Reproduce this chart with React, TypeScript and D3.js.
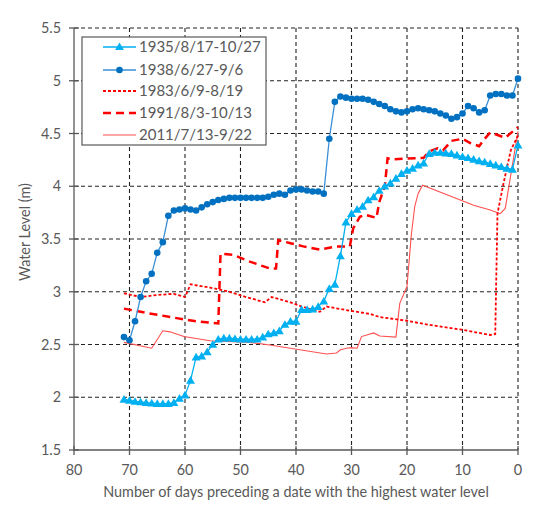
// @ts-nocheck
import * as d3 from 'd3'

// days before the peak, one reading per day for the two old floods
const dailyDays = d3.range(71, -1, -1)

const level1935 = [
  1.98, 1.97, 1.96, 1.955, 1.95, 1.945, 1.94, 1.94, 1.94, 1.95,
  1.99, 2.02, 2.16, 2.38, 2.39, 2.43, 2.5, 2.55, 2.56, 2.56,
  2.555, 2.55, 2.55, 2.55, 2.55, 2.57, 2.6, 2.61, 2.63, 2.69,
  2.72, 2.72, 2.83, 2.83, 2.835, 2.86, 2.91, 3.03, 3.07, 3.34,
  3.66, 3.74, 3.78, 3.81, 3.87, 3.9, 3.96, 4.0, 4.03, 4.075,
  4.12, 4.15, 4.17, 4.2, 4.22, 4.31, 4.32, 4.32, 4.315, 4.31,
  4.295, 4.28, 4.27, 4.255, 4.24, 4.23, 4.215, 4.2, 4.185, 4.17,
  4.16, 4.39,
]

const level1938 = [
  2.57, 2.54, 2.72, 2.95, 3.1, 3.17, 3.37, 3.47, 3.72, 3.77,
  3.78, 3.79, 3.78, 3.77, 3.8, 3.83, 3.85, 3.87, 3.88, 3.89,
  3.89, 3.89, 3.89, 3.89, 3.89, 3.89, 3.9, 3.92, 3.93, 3.92,
  3.96, 3.97, 3.97, 3.96, 3.95, 3.95, 3.93, 4.45, 4.8, 4.85,
  4.84, 4.83, 4.83, 4.83, 4.82, 4.8, 4.78, 4.76, 4.73, 4.71,
  4.7, 4.71, 4.73, 4.74, 4.73, 4.72, 4.71, 4.69, 4.67, 4.64,
  4.655, 4.69, 4.76, 4.74, 4.7, 4.72, 4.86, 4.875, 4.875, 4.86,
  4.86, 5.02,
]

// the recent floods are drawn as plain lines (finer records)
const days1983 = [71, 68, 65, 62, 60, 59, 55.5, 52, 49, 45.6, 44.4, 41, 39, 35.7, 34.5, 30.3, 26.7, 24.9, 20, 15.9, 10.1, 5, 4.1, 3.7, 2.6, 1.3, 0]
const level1983 = [2.985, 2.95, 2.97, 2.98, 2.95, 3.07, 3.04, 3.0, 2.95, 2.9, 2.95, 2.9, 2.86, 2.81, 2.86, 2.82, 2.79, 2.76, 2.725, 2.685, 2.64, 2.59, 2.6, 3.74, 4.03, 4.34, 4.48]

const days1991 = [71, 67, 61.5, 58, 54, 53.6, 51.3, 48.3, 44.7, 43.6, 43.2, 41, 38.7, 35.7, 32.7, 30.3, 29.7, 28.5, 27.5, 25.5, 25, 24, 23.5, 22.5, 17, 16, 14.5, 13.5, 12, 10, 8.6, 7, 6, 5, 2.3, 0]
const level1991 = [2.84, 2.8, 2.75, 2.72, 2.7, 3.36, 3.35, 3.285, 3.22, 3.22, 3.49, 3.46, 3.43, 3.4, 3.43, 3.43, 3.6, 3.71, 3.73, 3.7, 3.85, 4.0, 4.265, 4.255, 4.27, 4.33, 4.36, 4.34, 4.43, 4.45, 4.41, 4.38, 4.45, 4.51, 4.46, 4.56]

const days2011 = [71, 66, 64, 62.7, 60.2, 55.5, 48.3, 44.7, 39.9, 34.5, 32.7, 32, 30.9, 30, 29, 28.2, 26, 24.9, 22, 21.3, 20, 19.2, 18.6, 18, 17.2, 12.8, 8, 5, 3.2, 2.3, 0]
const level2011 = [2.52, 2.465, 2.63, 2.62, 2.575, 2.535, 2.52, 2.495, 2.455, 2.41, 2.42, 2.45, 2.465, 2.47, 2.465, 2.575, 2.61, 2.58, 2.57, 2.89, 3.05, 3.55, 3.81, 3.93, 4.01, 3.92, 3.82, 3.775, 3.74, 3.79, 4.52]

const legendLabels = ['1935/8/17-10/27', '1938/6/27-9/6', '1983/6/9-8/19', '1991/8/3-10/13', '2011/7/13-9/22']

const xTitle = 'Number of days preceding a date with the highest water level'
const yTitle = 'Water Level (m)'

const font = 'Lato, "Open Sans", sans-serif'
const textColor = '#595959'
const axisColor = '#595959'

export default function App() {
  const width = 550
  const height = 518
  const plot = { left: 74, right: 518, top: 28, bottom: 450 }

  const x = d3.scaleLinear().domain([80, 0]).range([plot.left, plot.right])
  const y = d3.scaleLinear().domain([1.5, 5.5]).range([plot.bottom, plot.top])

  const line = d3
    .line()
    .x((d) => x(d[0]))
    .y((d) => y(d[1]))

  const zip = (ds, vs) => ds.map((d, i) => [d, vs[i]])

  const s1935 = zip(dailyDays, level1935)
  const s1938 = zip(dailyDays, level1938)
  const s1983 = zip(days1983, level1983)
  const s1991 = zip(days1991, level1991)
  const s2011 = zip(days2011, level2011)

  const xTicks = d3.range(80, -1, -10)
  const yTicks = y.ticks(8)

  const tri = d3.symbol(d3.symbolTriangle, 34)()

  const legendRows = [47, 70, 91, 113, 135]

  return (
    <svg
      width={width}
      height={height}
      style={{ position: 'absolute', left: 0, top: 0, background: '#fff' }}
      fontFamily={font}
    >
      {/* dashed grid */}
      <g stroke="#222" strokeWidth={1.1} strokeDasharray="4,3">
        {xTicks
          .filter((t) => t !== 80)
          .map((t) => (
            <line key={'gx' + t} x1={x(t)} x2={x(t)} y1={plot.top} y2={plot.bottom} />
          ))}
        {yTicks
          .filter((t) => t !== 1.5)
          .map((t) => (
            <line key={'gy' + t} x1={plot.left} x2={plot.right} y1={y(t)} y2={y(t)} />
          ))}
      </g>

      {/* axes */}
      <g stroke={axisColor} strokeWidth={1.3}>
        <line x1={plot.left} x2={plot.left} y1={plot.top} y2={plot.bottom} />
        <line x1={plot.left} x2={plot.right} y1={plot.bottom} y2={plot.bottom} />
        {xTicks.map((t) => (
          <line key={'tx' + t} x1={x(t)} x2={x(t)} y1={plot.bottom - 4} y2={plot.bottom + 5} />
        ))}
        {yTicks.map((t) => (
          <line key={'ty' + t} x1={plot.left - 5} x2={plot.left + 5} y1={y(t)} y2={y(t)} />
        ))}
      </g>

      <g fill={textColor} fontSize={14.4}>
        {xTicks.map((t) => (
          <text key={'lx' + t} x={x(t)} y={plot.bottom + 25} textAnchor="middle">
            {t}
          </text>
        ))}
        {yTicks.map((t) => (
          <text key={'ly' + t} x={plot.left - 13} y={y(t) + 5} textAnchor="end">
            {t}
          </text>
        ))}
        <text x={296} y={497} textAnchor="middle">
          {xTitle}
        </text>
        <text transform="translate(30,232) rotate(-90)" textAnchor="middle">
          {yTitle}
        </text>
      </g>

      {/* series */}
      <path d={line(s2011)} fill="none" stroke="#ff5050" strokeWidth={1.1} />
      <path d={line(s1983)} fill="none" stroke="#ff0000" strokeWidth={1.8} strokeDasharray="3,2" />
      <path d={line(s1991)} fill="none" stroke="#ff0000" strokeWidth={2.5} strokeDasharray="8,5" />

      <path d={line(s1938)} fill="none" stroke="#3b8fd6" strokeWidth={1.3} />
      {s1938.map((d, i) => (
        <circle key={'c' + i} cx={x(d[0])} cy={y(d[1])} r={3.3} fill="#0070c0" />
      ))}

      <path d={line(s1935)} fill="none" stroke="#00b0f0" strokeWidth={1.3} />
      {s1935.map((d, i) => (
        <path key={'t' + i} d={tri} transform={`translate(${x(d[0])},${y(d[1]) + 0.8})`} fill="#00b0f0" />
      ))}

      {/* legend */}
      <rect x={82} y={37} width={184} height={108} fill="#fff" stroke={axisColor} strokeWidth={1.2} />
      {legendRows.map((ly, i) => (
        <g key={'lg' + i}>
          {i === 0 && (
            <>
              <line x1={103} x2={136} y1={ly} y2={ly} stroke="#00b0f0" strokeWidth={1.3} />
              <path d={tri} transform={`translate(119.5,${ly + 0.5})`} fill="#00b0f0" />
            </>
          )}
          {i === 1 && (
            <>
              <line x1={103} x2={136} y1={ly} y2={ly} stroke="#3b8fd6" strokeWidth={1.3} />
              <circle cx={119.5} cy={ly} r={3.3} fill="#0070c0" />
            </>
          )}
          {i === 2 && <line x1={103} x2={136} y1={ly} y2={ly} stroke="#ff0000" strokeWidth={1.8} strokeDasharray="3,2" />}
          {i === 3 && <line x1={103} x2={136} y1={ly} y2={ly} stroke="#ff0000" strokeWidth={2.5} strokeDasharray="8,5" />}
          {i === 4 && <line x1={103} x2={136} y1={ly} y2={ly} stroke="#ff5050" strokeWidth={1.1} />}
          <text x={139} y={ly + 5} fill={textColor} fontSize={15}>
            {legendLabels[i]}
          </text>
        </g>
      ))}
    </svg>
  )
}
